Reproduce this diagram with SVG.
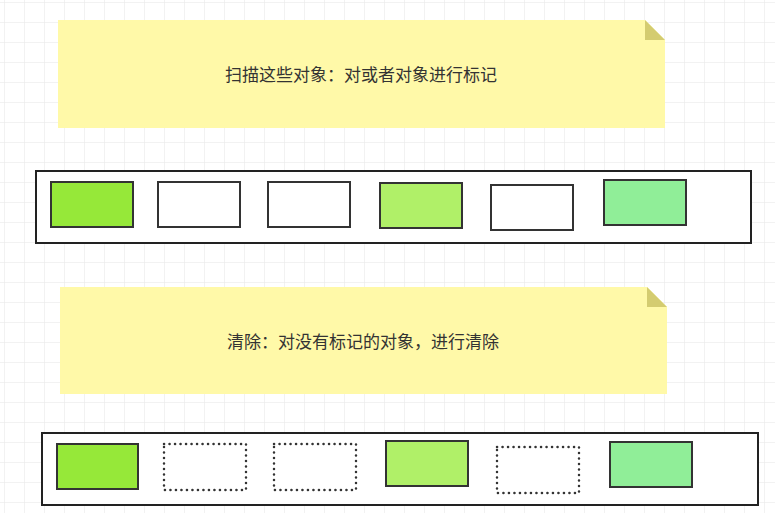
<svg xmlns="http://www.w3.org/2000/svg" width="775" height="513" viewBox="0 0 775 513">
<defs>
<pattern id="grid" width="20" height="20" patternUnits="userSpaceOnUse" x="4" y="2">
<path d="M20 0H0V20" fill="none" stroke="#e6e6e6" stroke-width="1"/>
</pattern>
<style>
.note{fill:#fff9a8}
.fold{fill:#d4cc70}
.cont{fill:#fff;stroke:#222;stroke-width:2}
.box{stroke:#333;stroke-width:2}
.dot{fill:#fff;stroke:#333;stroke-width:2.5;stroke-dasharray:0.1 5.4;stroke-linecap:round}
.t{font-family:"Noto Sans CJK SC",sans-serif;font-size:17px;fill:#333;text-anchor:middle}
</style>
</defs>
<rect width="775" height="513" fill="#fff"/>
<rect width="775" height="513" fill="url(#grid)"/>
<g id="note1"><path class="note" d="M58 20H645L665 40V128H58Z"/><path class="fold" d="M645 20V40H665Z"/><text class="t" x="361" y="81">扫描这些对象：对或者对象进行标记</text></g>
<g id="row1">
<rect class="cont" x="36" y="171" width="715" height="72"/>
<rect class="box" x="51" y="182" width="82" height="45" fill="#96e839"/>
<rect class="box" x="158" y="182" width="82" height="45" fill="#fff"/>
<rect class="box" x="268" y="182" width="82" height="45" fill="#fff"/>
<rect class="box" x="380" y="183" width="82" height="45" fill="#b0f068"/>
<rect class="box" x="491" y="185" width="82" height="45" fill="#fff"/>
<rect class="box" x="604" y="180" width="82" height="45" fill="#90ee98"/>
</g>
<g id="note2"><path class="note" d="M60 287H647L667 307V394H60Z"/><path class="fold" d="M647 287V307H667Z"/><text class="t" x="363" y="348">清除：对没有标记的对象，进行清除</text></g>
<g id="row2">
<rect class="cont" x="42" y="433" width="716" height="72"/>
<rect class="box" x="57" y="444" width="81" height="45" fill="#96e839"/>
<rect class="dot" x="164" y="444" width="82" height="46"/>
<rect class="dot" x="274" y="444" width="82" height="46"/>
<rect class="box" x="386" y="441" width="82" height="45" fill="#b0f068"/>
<rect class="dot" x="497" y="447" width="82" height="46"/>
<rect class="box" x="610" y="442" width="82" height="45" fill="#90ee98"/>
</g>
<g id="connectors"/>
</svg>
